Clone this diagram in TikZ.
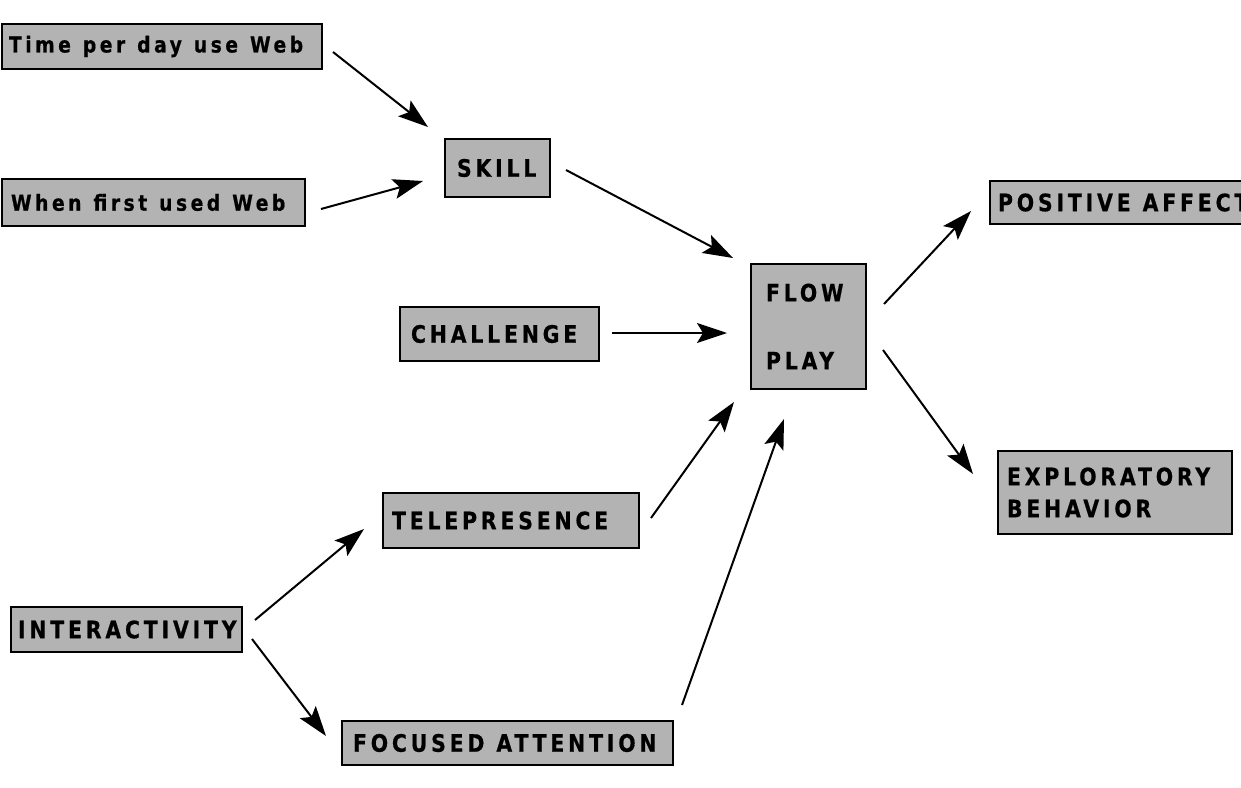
\documentclass[tikz,border=0pt]{standalone}
\usepackage{fontspec}
\newfontfamily\lbl[LetterSpace=16,FakeStretch=0.85,FakeBold=0.6]{DejaVu Sans}
\usetikzlibrary{arrows.meta,calc}
\definecolor{boxgray}{RGB}{179,179,179}
\newcommand{\ws}{\hspace{12pt}}
\newcommand{\lws}{\hspace{12pt}}
\tikzset{
  box/.style={draw=black, fill=boxgray, line width=2pt, anchor=north west,
    align=left, inner ysep=0pt, font=\lbl\bfseries\fontsize{24}{28}\selectfont},
  lowbox/.style={box, font=\lbl\bfseries\fontsize{22}{26}\selectfont},
  conn/.style={line width=2pt, -{Stealth[length=30pt,width=20pt,inset=6pt]}}
}
\newcommand{\mybox}[8][box]{% style, name, x, y, w, h, pad, text
  \node[#1, inner xsep=#7pt, text width=#5pt-2*#7pt, minimum width=#5pt, minimum height=#6pt] (#2) at (#3,#4) {#8};}
\begin{document}
\begin{tikzpicture}[x=1pt,y=-1pt]
\useasboundingbox[fill=white] (0,0) rectangle (1241,787);
\mybox[lowbox]{time}{1}{23}{320}{45}{7}{Time\lws per\lws day\lws use\lws Web}
\mybox[lowbox]{when}{1}{178}{303}{47}{9}{When\lws first\lws used\lws Web}
\mybox{skill}{444}{138}{105}{58}{12}{SKILL}
\mybox{chal}{399}{306}{199}{54}{11}{CHALLENGE}
\mybox{flow}{750}{263}{115}{125}{15}{FLOW\\[40pt]PLAY}
\mybox{pos}{989}{180}{275}{43}{8}{POSITIVE\ws AFFECT}
\mybox{expl}{997}{450}{234}{83}{9}{EXPLORATORY\\[4pt]BEHAVIOR}
\mybox{tele}{382}{492}{256}{55}{9}{TELEPRESENCE}
\mybox{inter}{10}{606}{231}{45}{7}{INTERACTIVITY}
\mybox{focus}{341}{720}{331}{44}{11}{FOCUSED\ws ATTENTION}

\draw[conn] ($(time.east)+(10,5.5)$) -- ($(skill.north west)+(-16,-11)$);
\draw[conn] ($(when.east)+(15,6.5)$) -- ($(skill.west)+(-21,13)$);
\draw[conn] ($(skill.east)+(15,2)$) -- ($(flow.north west)+(-17,-5)$);
\draw[conn] ($(chal.east)+(12,-1)$) -- ($(flow.west)+(-23,6.5)$);
\draw[conn] ($(tele.east)+(11,-2.5)$) -- ($(flow.south west)+(-16,12)$);
\draw[conn] ($(focus.north east)+(8,-15)$) -- ($(flow.south)+(-24.5,29)$);
\draw[conn] ($(flow.east)+(17,-22.5)$) -- ($(pos.west)+(-18,8.5)$);
\draw[conn] ($(flow.east)+(16,23.5)$) -- ($(expl.west)+(-24,-18.5)$);
\draw[conn] ($(inter.east)+(12,-9.5)$) -- ($(tele.west)+(-18,8.5)$);
\draw[conn] ($(inter.east)+(9,9.5)$) -- ($(focus.west)+(-15,-7)$);
\end{tikzpicture}
\end{document}
